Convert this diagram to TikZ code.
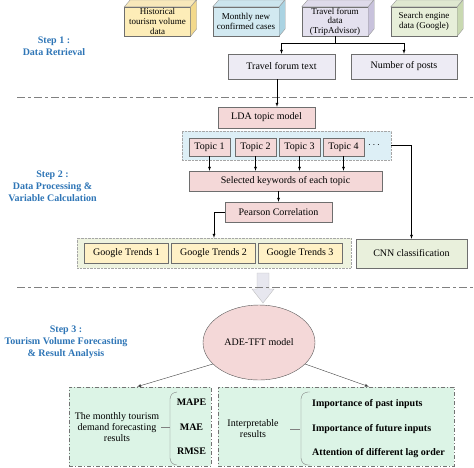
\documentclass[tikz,border=0pt]{standalone}
\usepackage{fontspec}
\setmainfont{Liberation Serif}
\usetikzlibrary{arrows,shapes.geometric}
\definecolor{stepblue}{HTML}{2E75B6}
\definecolor{boxgray}{HTML}{6E6E6E}
\definecolor{histfill}{HTML}{FDEDB8}
\definecolor{histside}{HTML}{F3D98C}
\definecolor{conffill}{HTML}{D2E9F1}
\definecolor{confside}{HTML}{AAD3E2}
\definecolor{tfdfill}{HTML}{E4E1EF}
\definecolor{tfdside}{HTML}{C8C2DC}
\definecolor{sengfill}{HTML}{E7EFD9}
\definecolor{sengside}{HTML}{C9D9B1}
\definecolor{textfill}{HTML}{EDEBF4}
\definecolor{pinkfill}{HTML}{F4D8D8}
\definecolor{topicgrp}{HTML}{DDEFF6}
\definecolor{googlegrp}{HTML}{EEF3DF}
\definecolor{googlefill}{HTML}{FFF1C6}
\definecolor{cnnfill}{HTML}{E9F0DC}
\definecolor{resfill}{HTML}{DCF4E6}
\definecolor{arrowfill}{HTML}{E7E7EF}

\begin{document}
\begin{tikzpicture}[>=latex, x=1pt, y=-1pt, font=\fontsize{10}{11}\selectfont,
  plainbox/.style={draw=boxgray, inner sep=1pt, align=center},
  cube/.style={plainbox, minimum width=66pt, minimum height=29pt, inner sep=0pt, font=\fontsize{9}{9.6}\selectfont},
  steplabel/.style={text=stepblue, font=\bfseries\fontsize{10}{12}\selectfont, align=center},
  stepsep/.style={draw=gray, line width=0.8pt, dash pattern=on 8pt off 3pt on 3pt off 3pt},
  groupbox/.style={draw=gray!70, densely dotted, inner sep=0pt},
  resbox/.style={draw=gray!90!black, fill=resfill, line width=0.6pt, dash pattern=on 4pt off 2pt on 1pt off 2pt, inner sep=0pt},
  brk/.style={draw=gray, rounded corners=7pt}]
	\useasboundingbox (0,0) rectangle (474,467);
%	step 1
	\node [cube, fill=histfill] (hist) at (157.5,21.5) {Historical\\tourism volume\\data};
	\node [cube, fill=conffill] (conf) at (246,21.5) {Monthly new\\confirmed cases};
	\node [cube, fill=tfdfill] (tfd) at (335,21.5) {Travel forum\\data\\(TripAdvisor)};
	\node [cube, fill=sengfill] (seng) at (424,21.5) {Search engine\\data (Google)};
	\foreach \n/\c in {hist/histside, conf/confside, tfd/tfdside, seng/sengside}{
		\draw [draw=boxgray!70, fill=\c!60] (\n.north west) -- ++(6,-7) -- ++(66,0) -- (\n.north east) -- cycle;
		\draw [draw=boxgray!70, fill=\c] (\n.north east) -- ++(6,-7) -- ++(0,29) -- (\n.south east) -- cycle;
	}
	\node [steplabel] (step1) at (54,46) {Step 1 :\\Data Retrieval};
	\node [plainbox, fill=textfill, minimum width=107pt, minimum height=25pt] (tft) at (281.5,66.5) {Travel forum text};
	\node [plainbox, fill=textfill, minimum width=106pt, minimum height=25pt] (nop) at (404,66.5) {Number of posts};
	\draw (tfd.south) -- ++(0,7) coordinate (split);
	\draw [->] (split) -| (tft.north);
	\draw [->] (split) -| (nop.north);
	\draw [stepsep] (17,97) -- (474,97);
%	step 2
	\node [steplabel] (step2) at (52.5,186) {Step 2 :\\Data Processing \&\\Variable Calculation};
	\node [plainbox, fill=pinkfill, minimum width=97pt, minimum height=21pt] (lda) at (266.5,117.5) {LDA topic model};
	\draw [->] ([xshift=-4.5pt]tft.south) -- ([xshift=-4.5pt]tft.south |- lda.north);
	\node [groupbox, fill=topicgrp, minimum width=209pt, minimum height=29pt] (tgrp) at (286.5,145.5) {};
	\foreach \i/\x in {1/209.5, 2/255.5, 3/299.5, 4/343.5}
		\node [plainbox, fill=pinkfill, minimum width=41pt, minimum height=18pt] (t\i) at (\x,147) {Topic \i};
	\node (tdots) at (374,145) {$\cdots$};
	\node [plainbox, fill=pinkfill, minimum width=193pt, minimum height=20pt] (kw) at (285.5,181) {Selected keywords of each topic};
	\foreach \i in {1,...,4}
		\draw [->] (t\i.south) -- (t\i.south |- kw.north);
	\node [plainbox, fill=pinkfill, minimum width=107pt, minimum height=20pt] (pc) at (278.5,212) {Pearson Correlation};
	\draw [->] (pc.north |- kw.south) -- (pc.north);
	\node [groupbox, fill=googlegrp, minimum width=274pt, minimum height=30pt] (ggrp) at (214,253) {};
	\foreach \i/\x in {1/126.5, 2/213.5, 3/300}
		\node [plainbox, fill=googlefill, minimum width=84pt, minimum height=20pt] (g\i) at (\x,253) {Google Trends \i};
	\draw [->] (pc.west) -| (ggrp.north);
	\node [plainbox, fill=cnnfill, minimum width=111pt, minimum height=29pt] (cnn) at (411.5,253.5) {CNN classification};
	\draw [->] (tgrp.east) -| (cnn.north);
	\draw [draw=gray!50, fill=arrowfill] (257,273) -- (269,273) -- (269,289) -- (274,289) -- (263,303) -- (252,289) -- (257,289) -- cycle;
	\draw [stepsep] (17,287) -- (474,287);
%	step 3
	\node [steplabel] (step3) at (66,342) {Step 3 :\\Tourism Volume Forecasting\\\& Result Analysis};
	\node [ellipse, draw=boxgray!80!black, fill=pinkfill, minimum width=112pt, minimum height=75pt, inner sep=0pt] (tft2) at (259,342.5) {ADE-TFT model};
	\node [resbox, minimum width=142pt, minimum height=79pt] (lres) at (140,426.5) {};
	\node [resbox, minimum width=236pt, minimum height=79pt] (rres) at (336,426.5) {};
	\draw [->, draw=black!75] (tft2.205) -- ([xshift=-3pt]lres.north);
	\draw [->, draw=black!75] (tft2.335) -- ([xshift=33pt]rres.north);
	\node [align=center] (ltext) at (117,427) {The monthly tourism\\demand forecasting\\results};
	\draw [draw=gray] (161,427) -- (170,427);
	\draw [brk] (177,392) -- (170,392) -- (170,465) -- (177,465);
	\foreach \m/\y in {MAPE/402, MAE/427, RMSE/451}
		\node [font=\bfseries] (\m) at (191.5,\y) {\m};
	\node [align=center] (rtext) at (253,429) {Interpretable\\results};
	\draw [draw=gray] (290,429) -- (300,429);
	\draw [brk] (310,392) -- (301,392) -- (301,465) -- (310,465);
	\node [font=\bfseries, anchor=west, inner sep=0pt] (past) at (312,404) {Importance of past inputs};
	\node [font=\bfseries, anchor=west, inner sep=0pt] (future) at (312,429) {Importance of future inputs};
	\node [font=\bfseries, anchor=west, inner sep=0pt] (lag) at (312,453) {Attention of different lag order};
\end{tikzpicture}
\end{document}
